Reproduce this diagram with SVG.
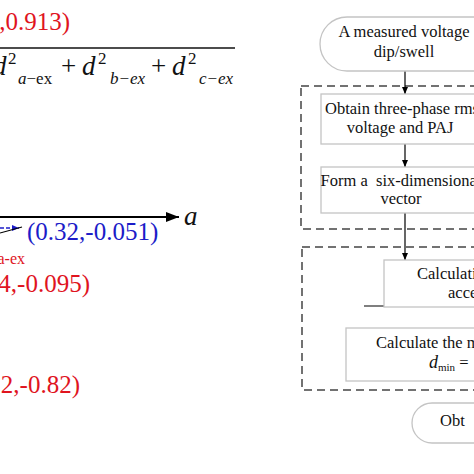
<svg xmlns="http://www.w3.org/2000/svg" width="474" height="474" viewBox="0 0 474 474">
<defs>
<marker id="ah" markerWidth="8" markerHeight="8" refX="7" refY="4" orient="auto" markerUnits="userSpaceOnUse"><path d="M0,1 L7,4 L0,7 Z" fill="#000"/></marker>
<marker id="big" markerWidth="14" markerHeight="10" refX="13" refY="5" orient="auto" markerUnits="userSpaceOnUse"><path d="M0,0 L13,5 L0,10 Z" fill="#000"/></marker>
<marker id="blue" markerWidth="8" markerHeight="8" refX="7" refY="4" orient="auto" markerUnits="userSpaceOnUse"><path d="M0,1 L7,4 L0,7 Z" fill="#1c1cc8"/></marker>
<style>
text{font-family:"Liberation Serif","Times New Roman",serif;}
.fc{font-size:16.5px;fill:#111;}
.red{fill:#e0141e;font-size:25px;}
.blu{fill:#1c1cc8;font-size:25px;}
.m{font-size:27px;fill:#111;}
.sup{font-size:17px;fill:#111;}
.it{font-style:italic;}
.box{fill:#fff;stroke:#c4c4c4;stroke-width:1.3;}
.dash{fill:none;stroke:#444;stroke-width:1.5;stroke-dasharray:8,5;}
.ln{stroke:#000;stroke-width:1.2;fill:none;}
</style>
</defs>
<rect width="474" height="474" fill="#fff"/>

<g id="left-plot">
<text class="red" x="70" y="30" text-anchor="end">,0.913)</text>
<line x1="0" y1="48" x2="235" y2="48" stroke="#111" stroke-width="1.5"/>
<text class="m it" x="-7" y="75">d</text>
<text class="sup" x="8" y="64">2</text>
<text class="sup" x="18" y="84"><tspan class="it">a</tspan>−ex</text>
<text class="m" x="61" y="75">+</text>
<text class="m it" x="82" y="75">d</text>
<text class="sup" x="98" y="64">2</text>
<text class="sup it" x="110" y="84">b−ex</text>
<text class="m" x="151" y="75">+</text>
<text class="m it" x="172" y="75">d</text>
<text class="sup" x="188" y="64">2</text>
<text class="sup it" x="199" y="84">c−ex</text>

<line x1="0" y1="217" x2="179" y2="217" stroke="#000" stroke-width="2" marker-end="url(#big)"/>
<text class="m it" x="184" y="225">a</text>
<line x1="0" y1="228" x2="19" y2="228" stroke="#1c1cc8" stroke-width="1.5" stroke-dasharray="4,2" marker-end="url(#blue)"/>
<line x1="0" y1="233" x2="22" y2="227" class="ln" stroke-width="1.5"/>
<text class="blu" x="27" y="240">(0.32,-0.051)</text>
<text fill="#e0141e" font-size="16" x="25" y="264" text-anchor="end">a-ex</text>
<text class="red" x="90" y="292" text-anchor="end">4,-0.095)</text>
<text class="red" x="80" y="393" text-anchor="end">2,-0.82)</text>
</g>

<g id="group1"><rect class="dash" x="301" y="86" width="200" height="143"/></g>
<g id="group2"><rect class="dash" x="302" y="247" width="200" height="143"/></g>

<g id="connectors">
<line class="ln" x1="405" y1="71" x2="405" y2="94" marker-end="url(#ah)"/>
<line class="ln" x1="405" y1="144" x2="405" y2="167" marker-end="url(#ah)"/>
<line class="ln" x1="405" y1="213" x2="405" y2="260" marker-end="url(#ah)"/>
<line x1="364" y1="306" x2="474" y2="306" stroke="#555" stroke-width="1.5"/>
</g>

<g id="start">
<rect class="box" x="320" y="17" width="190" height="54" rx="27"/>
<text class="fc" x="404" y="37" text-anchor="middle">A measured voltage</text>
<text class="fc" x="404" y="57" text-anchor="middle">dip/swell</text>
</g>
<g id="obtain">
<rect class="box" x="321" y="94" width="170" height="50"/>
<text class="fc" x="402" y="114" text-anchor="middle">Obtain three-phase rms</text>
<text class="fc" x="400" y="133" text-anchor="middle">voltage and PAJ</text>
</g>
<g id="form">
<rect class="box" x="321" y="167" width="170" height="46"/>
<text class="fc" x="401" y="186" text-anchor="middle" xml:space="preserve">Form a  six-dimensional</text>
<text class="fc" x="401" y="204" text-anchor="middle">vector</text>
</g>
<g id="calc1">
<rect class="box" x="384" y="260" width="120" height="47"/>
<text class="fc" x="417" y="279">Calculati</text>
<text class="fc" x="448" y="298">acce</text>
</g>
<g id="calc2">
<rect class="box" x="346" y="328" width="140" height="53"/>
<text class="fc" x="376" y="348">Calculate the m</text>
<text class="fc" y="368"><tspan class="it" x="429" font-size="18">d</tspan><tspan font-size="11" dy="3">min</tspan><tspan dy="-3" dx="4">=</tspan></text>
</g>
<g id="end">
<rect class="box" x="412" y="403" width="120" height="40" rx="20"/>
<text class="fc" x="440" y="426">Obt</text>
</g>
</svg>
